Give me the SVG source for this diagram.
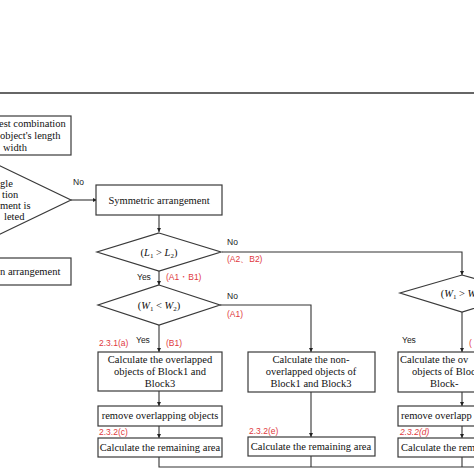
<svg xmlns="http://www.w3.org/2000/svg" width="474" height="474" viewBox="0 0 474 474">
<defs>
<marker id="ah" viewBox="0 0 6 6" refX="6" refY="3" markerWidth="4.5" markerHeight="4.5" orient="auto" markerUnits="userSpaceOnUse">
<path d="M0,0 L6,3 L0,6 z" fill="#222"/>
</marker>
<style>
.n{fill:#fff;stroke:#3a3a3a;stroke-width:1.2}
.t{font-family:"Liberation Serif","Times New Roman",serif;font-size:10.5px;fill:#111}
.tc{text-anchor:middle}
.s{font-family:"Liberation Sans",Arial,sans-serif;font-size:8.5px;fill:#222}
.r{font-family:"Liberation Sans",Arial,sans-serif;font-size:8.5px;fill:#e0393e}
.c{fill:none;stroke:#333;stroke-width:1.1}
.m{font-family:"Liberation Serif","Times New Roman",serif;font-size:10.5px;fill:#111;text-anchor:middle}
</style>
</defs>
<rect width="474" height="474" fill="#fff"/>
<line x1="0" y1="93" x2="474" y2="93" stroke="#333" stroke-width="1.3"/>

<g id="connectors">
<path class="c" d="M71,200 H97" marker-end="url(#ah)"/>
<path class="c" d="M159,215 V232" marker-end="url(#ah)"/>
<path class="c" d="M222,252 H462 V275" marker-end="url(#ah)"/>
<path class="c" d="M159,271 V285" marker-end="url(#ah)"/>
<path class="c" d="M220,305 H311 V352" marker-end="url(#ah)"/>
<path class="c" d="M159,325 V352" marker-end="url(#ah)"/>
<path class="c" d="M159,391 V406" marker-end="url(#ah)"/>
<path class="c" d="M159,426 V438" marker-end="url(#ah)"/>
<path class="c" d="M311,392 V437" marker-end="url(#ah)"/>
<path class="c" d="M462,312 V352" marker-end="url(#ah)"/>
<path class="c" d="M462,392 V406" marker-end="url(#ah)"/>
<path class="c" d="M462,426 V438" marker-end="url(#ah)"/>
<path class="c" d="M159,457 V467 H474"/>
<path class="c" d="M311,456 V467"/>
<path class="c" d="M462,457 V467"/>
</g>

<g id="labels">
<text class="s" x="73" y="185">No</text>
<text class="s" x="227" y="245">No</text>
<text class="r" x="227" y="262">(A2、B2)</text>
<text class="s" x="137" y="280">Yes</text>
<text class="r" x="166" y="280">(A1・B1)</text>
<text class="s" x="227" y="299">No</text>
<text class="r" x="227" y="317">(A1)</text>
<text class="r" x="99" y="346">2.3.1(a)</text>
<text class="s" x="136" y="343">Yes</text>
<text class="r" x="166" y="346">(B1)</text>
<text class="r" x="99" y="435">2.3.2(c)</text>
<text class="r" x="249" y="434">2.3.2(e)</text>
<text class="s" x="402" y="343">Yes</text>
<text class="r" x="469" y="346">(</text>
<text class="r" x="400" y="435" font-style="italic">2.3.2(d)</text>
</g>

<g id="n-best-combination">
<rect class="n" x="-60" y="116" width="131" height="39"/>
<text class="t" x="-1" y="127">est combination</text>
<text class="t" x="0" y="139">object's length</text>
<text class="t" x="3" y="151">width</text>
</g>

<g id="d-single">
<polygon class="n" points="-8,162 71,200 -8,238 -87,200"/>
<text class="t" x="0" y="187">gle</text>
<text class="t" x="2" y="198">tion</text>
<text class="t" x="0" y="209">ment is</text>
<text class="t" x="4" y="220">leted</text>
</g>

<g id="n-arrangement">
<rect class="n" x="-60" y="258" width="131" height="27"/>
<text class="t" x="0" y="275">n arrangement</text>
</g>

<g id="n-symmetric">
<rect class="n" x="96" y="185" width="126" height="30"/>
<text class="t tc" x="159" y="204">Symmetric arrangement</text>
</g>

<g id="d-L">
<polygon class="n" points="159,233 221,252 159,271 97,252"/>
<text class="m" x="159" y="256">(<tspan font-style="italic">L</tspan><tspan font-size="7" dy="2">1</tspan><tspan dy="-2"> &gt; </tspan><tspan font-style="italic">L</tspan><tspan font-size="7" dy="2">2</tspan><tspan dy="-2">)</tspan></text>
</g>

<g id="d-W-left">
<polygon class="n" points="159,285 220,305 159,325 98,305"/>
<text class="m" x="159" y="309">(<tspan font-style="italic">W</tspan><tspan font-size="7" dy="2">1</tspan><tspan dy="-2"> &lt; </tspan><tspan font-style="italic">W</tspan><tspan font-size="7" dy="2">2</tspan><tspan dy="-2">)</tspan></text>
</g>

<g id="d-W-right">
<polygon class="n" points="462,275 524,293 462,312 400,293"/>
<text class="m" x="462" y="297">(<tspan font-style="italic">W</tspan><tspan font-size="7" dy="2">1</tspan><tspan dy="-2"> &gt; </tspan><tspan font-style="italic">W</tspan><tspan font-size="7" dy="2">2</tspan><tspan dy="-2">)</tspan></text>
</g>

<g id="n-overlap-left">
<rect class="n" x="98" y="352" width="124" height="39"/>
<text class="t tc" x="160" y="363">Calculate the overlapped</text>
<text class="t tc" x="160" y="375">objects of Block1 and</text>
<text class="t tc" x="160" y="387">Block3</text>
</g>

<g id="n-remove-left">
<rect class="n" x="98" y="406" width="124" height="20"/>
<text class="t tc" x="160" y="419">remove overlapping objects</text>
</g>

<g id="n-area-left">
<rect class="n" x="98" y="438" width="124" height="19"/>
<text class="t tc" x="160" y="451">Calculate the remaining area</text>
</g>

<g id="n-nonoverlap">
<rect class="n" x="248" y="352" width="127" height="40"/>
<text class="t tc" x="311" y="363">Calculate the non-</text>
<text class="t tc" x="311" y="375">overlapped objects of</text>
<text class="t tc" x="311" y="387">Block1 and Block3</text>
</g>

<g id="n-area-mid">
<rect class="n" x="248" y="437" width="127" height="19"/>
<text class="t tc" x="311" y="450">Calculate the remaining area</text>
</g>

<g id="n-overlap-right">
<rect class="n" x="398" y="352" width="126" height="40"/>
<text class="t" x="400" y="363">Calculate the ov</text>
<text class="t" x="412" y="375">objects of Block-</text>
<text class="t" x="430" y="387">Block-</text>
</g>

<g id="n-remove-right">
<rect class="n" x="398" y="406" width="126" height="20"/>
<text class="t" x="401" y="419">remove overlapp</text>
</g>

<g id="n-area-right">
<rect class="n" x="398" y="438" width="126" height="19"/>
<text class="t" x="401" y="451">Calculate the rem</text>
</g>
</svg>
